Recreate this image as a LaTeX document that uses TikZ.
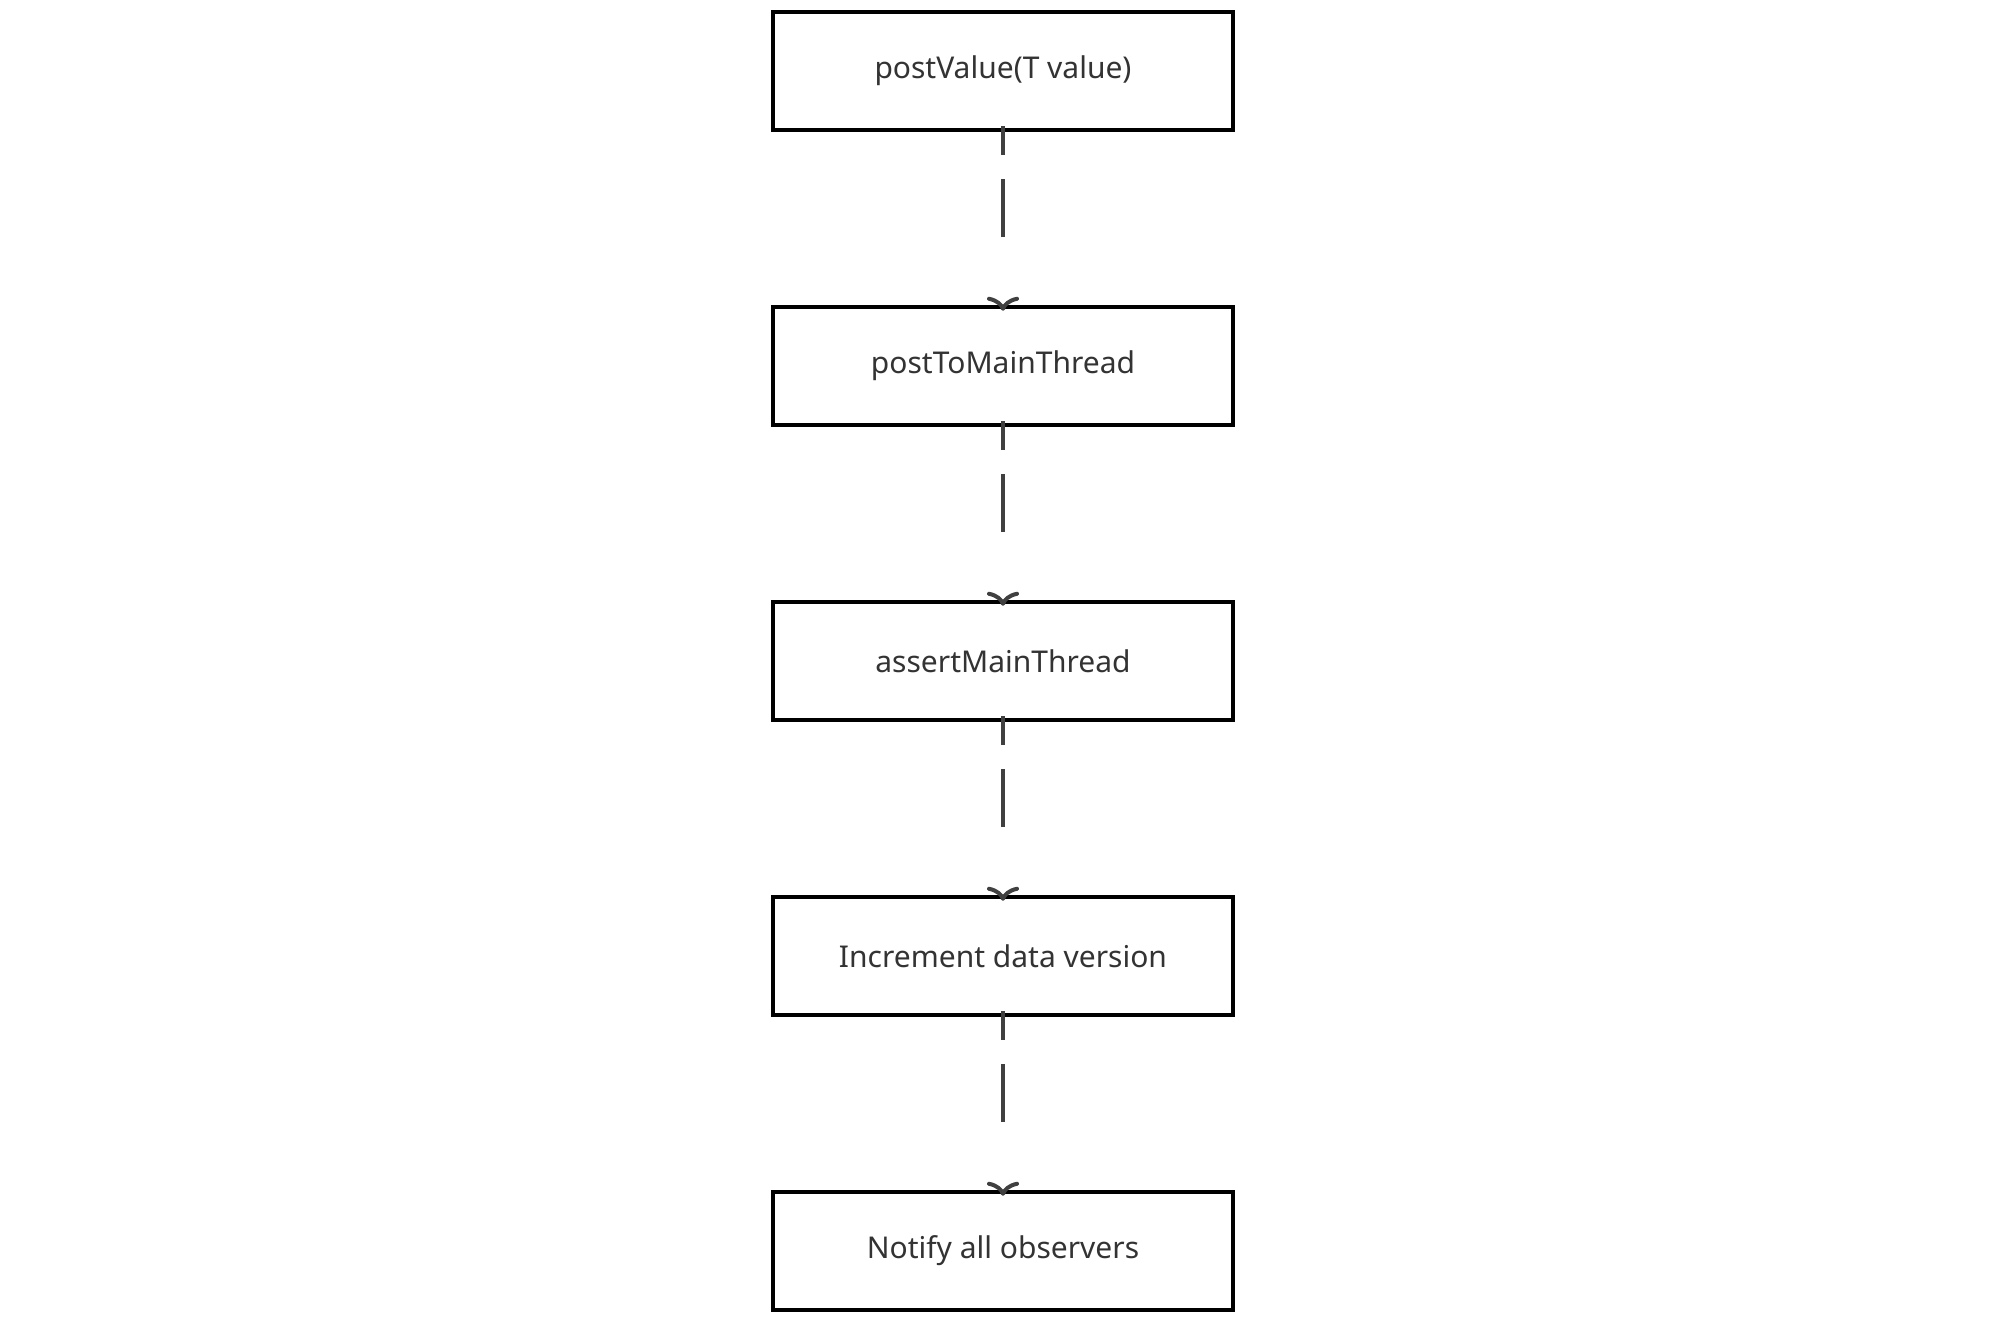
\documentclass[tikz,border=0pt]{standalone}
\usepackage{fontspec}
\setmainfont{Noto Sans}
\usetikzlibrary{arrows.meta}
\definecolor{txt}{HTML}{333333}
\definecolor{ln}{HTML}{404040}
\begin{document}
\begin{tikzpicture}[x=1pt,y=-1pt,
  box/.style={draw=black,line width=4.5pt,minimum width=460pt,minimum height=118pt,inner sep=0pt,text=txt,font=\fontsize{30}{36}\selectfont},
  conn/.style={draw=ln,line width=4pt,dash pattern=on 29pt off 24pt on 58pt off 200pt,-{To[length=14pt,width=32pt,line width=4pt]}}]
\useasboundingbox (0,0) rectangle (2006,1325);
\fill[white] (0,0) rectangle (2006,1325);
\node[box,font=\fontsize{30}{36}\selectfont\bfseries] (a) at (1003,71) {postValue(T value)};
\node[box] (b) at (1003,366) {postToMainThread};
\node[box] (c) at (1003,661) {assertMainThread};
\node[box] (d) at (1003,956) {Increment data version};
\node[box] (e) at (1003,1251) {Notify all observers};
\foreach \s/\t in {a/b,b/c,c/d,d/e}
  \draw[conn] ([yshift=6pt]\s.south) -- ([yshift=-6pt]\t.north);
\end{tikzpicture}
\end{document}
